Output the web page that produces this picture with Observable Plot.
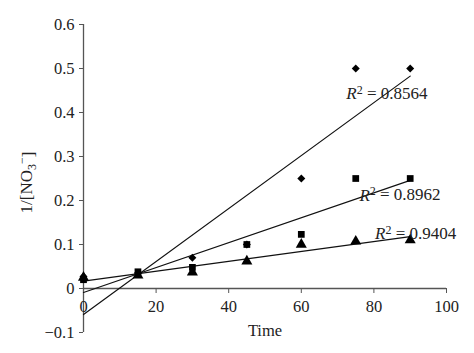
<!DOCTYPE html>
<html>
<head>
<meta charset="utf-8">
<script src="https://cdn.jsdelivr.net/npm/d3@7"></script>
<script src="https://cdn.jsdelivr.net/npm/@observablehq/plot@0.6"></script>
<style>
  html, body { margin: 0; padding: 0; background: #fff; }
  svg text { font-family: "Liberation Serif", "DejaVu Serif", serif !important; }
</style>
</head>
<body>
<div id="chart"></div>
<script>
// ---- data ----
const times = [0, 15, 30, 45, 60, 75, 90];
const seriesDiamond = [0.027, 0.035, 0.07, 0.1, 0.25, 0.5, 0.5];
const seriesSquare = [0.02, 0.038, 0.048, 0.1, 0.123, 0.25, 0.25];
const seriesTriangle = [0.025, 0.03, 0.037, 0.062, 0.1, 0.107, 0.11];
const seriesNames = ["diamond", "square", "triangle"];
const r2Labels = ["R2 = 0.8564", "R2 = 0.8962", "R2 = 0.9404"];
const r2LabelX = [72.4, 76.0, 80.3];
const r2LabelY = [0.442, 0.212, 0.124];
const xTicks = [0, 20, 40, 60, 80, 100];
const yTicks = [-0.1, 0, 0.1, 0.2, 0.3, 0.4, 0.5, 0.6];
const xLabel = "Time";
const yLabel = "1/[NO3−]";

const allSeries = [seriesDiamond, seriesSquare, seriesTriangle];
const table = [];
allSeries.forEach((vals, i) => vals.forEach((v, j) => table.push({series: seriesNames[i], t: times[j], v})));
const labels = r2Labels.map((text, i) => ({text, x: r2LabelX[i], y: r2LabelY[i]}));

const fmtY = d => d === 0 ? "0" : (d < 0 ? "−" + Math.abs(d).toFixed(1) : d.toFixed(1));
const serif = "Liberation Serif";

const chart = Plot.plot({
  width: 474,
  height: 353,
  marginLeft: 83,
  marginRight: 28,
  marginTop: 24,
  marginBottom: 21,
  style: {fontFamily: serif, fontSize: "16px", color: "#222", background: "#fff"},
  x: {domain: [0, 100], axis: null},
  y: {domain: [-0.1, 0.6], axis: null},
  marks: [
    Plot.axisY({ticks: yTicks, tickSize: 4, tickPadding: 5, tickFormat: fmtY, label: null, stroke: "#555", strokeOpacity: 1, fill: "#222", fontFamily: serif, fontSize: 16.5}),
    Plot.ruleX([0], {stroke: "#555", strokeWidth: 1.3}),
    Plot.ruleY([0], {stroke: "#555", strokeWidth: 1.3}),
    Plot.ruleX(xTicks, {x: d => d, y1: 0, y2: 0, insetBottom: -5, stroke: "#555"}),
    Plot.text(xTicks, {x: d => d, y: 0, dy: 18, text: d => String(d), fill: "#222", fontFamily: serif, fontSize: 16.5}),
    Plot.text([xLabel], {frameAnchor: "bottom", dy: -2, lineAnchor: "middle", fill: "#222", fontSize: 16.5, fontFamily: serif}),
    Plot.text([yLabel], {frameAnchor: "left", textAnchor: "middle", dx: -57, dy: 4, rotate: -90, fill: "#222", fontSize: 17, fontFamily: serif}),
    Plot.linearRegressionY(table, {x: "t", y: "v", z: "series", ci: 0, stroke: "#111", strokeWidth: 1.2}),
    Plot.dot(table.filter(d => d.series === "diamond"), {x: "t", y: "v", symbol: "diamond2", r: 3.6, fill: "#000", stroke: "none"}),
    Plot.dot(table.filter(d => d.series === "square"), {x: "t", y: "v", symbol: "square", r: 3.8, fill: "#000", stroke: "none"}),
    Plot.dot(table.filter(d => d.series === "triangle"), {x: "t", y: "v", symbol: "triangle", r: 4.1, fill: "#000", stroke: "none"}),
    Plot.text(labels, {x: "x", y: "y", text: "text", textAnchor: "start", lineAnchor: "middle", fill: "#222", fontSize: 17, fontFamily: serif})
  ]
});

// rich text: italic R with superscript 2, subscript/superscript in y label
const ns = "http://www.w3.org/2000/svg";
chart.querySelectorAll("text").forEach(el => {
  const s = el.textContent;
  if (s.startsWith("R2 = ")) {
    const rest = s.slice(2);
    el.textContent = "";
    const a = document.createElementNS(ns, "tspan"); a.setAttribute("font-style", "italic"); a.textContent = "R";
    const b = document.createElementNS(ns, "tspan"); b.setAttribute("dy", "-0.45em"); b.setAttribute("font-size", "12"); b.textContent = "2";
    const c = document.createElementNS(ns, "tspan"); c.setAttribute("dy", "0.3em"); c.textContent = rest;
    el.append(a, b, c);
  } else if (s === yLabel) {
    el.textContent = "";
    const a = document.createElementNS(ns, "tspan"); a.textContent = "1/[NO";
    const b = document.createElementNS(ns, "tspan"); b.setAttribute("dy", "0.3em"); b.setAttribute("font-size", "12"); b.textContent = "3";
    const c = document.createElementNS(ns, "tspan"); c.setAttribute("dy", "-0.8em"); c.setAttribute("font-size", "12"); c.textContent = "−";
    const d = document.createElementNS(ns, "tspan"); d.setAttribute("dy", "0.5em"); d.textContent = "]";
    el.append(a, b, c, d);
  }
});

document.getElementById("chart").appendChild(chart);
</script>
</body>
</html>
